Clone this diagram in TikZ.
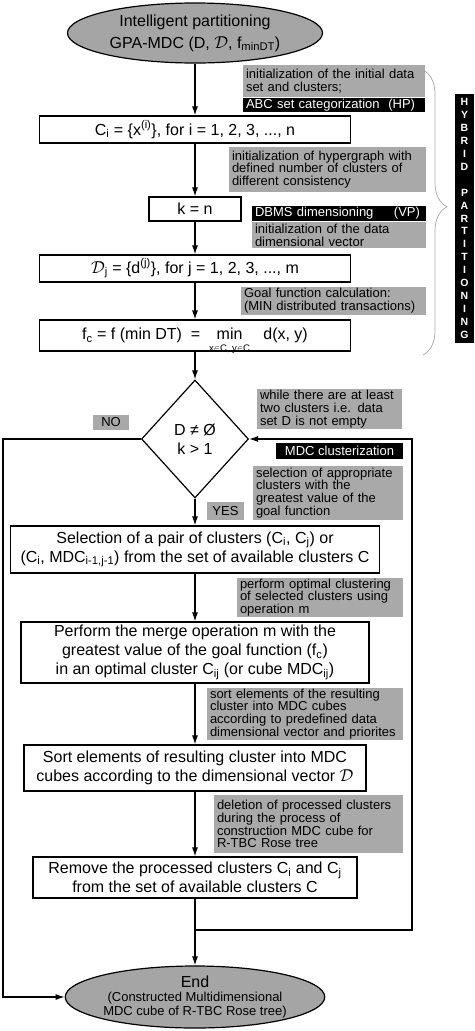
\documentclass[tikz,border=0pt]{standalone}
\usepackage{amsmath,amssymb}
\usepackage{fontspec}
\setmainfont{Liberation Sans}
\usepackage{tikz}
\usetikzlibrary{positioning,arrows.meta,shapes.geometric,decorations.pathreplacing}
\usepackage{xcolor}
\definecolor{notegray}{HTML}{A9A9A9}
\definecolor{termgray}{HTML}{A5A5A5}
\newcommand{\boxfont}{\fontsize{16}{19}\selectfont}
\newcommand{\notefont}{\fontsize{13}{12.8}\selectfont\hyphenpenalty=10000\exhyphenpenalty=10000}
\newcommand{\subtx}[1]{\textsubscript{#1}}
\newcommand{\suptx}[1]{\textsuperscript{#1}}
\newcommand{\Dcal}{$\mathcal{D}$}
\newcommand{\minxy}{\smash{\begin{tabular}[t]{@{}c@{}}min\\[-7.5pt]\fontsize{9.5}{10}\selectfont x$\in$C, y$\in$C\end{tabular}}}
\tikzset{
  >={Latex[length=9pt,width=6pt]},
  flowbox/.style={draw, line width=1.2pt, fill=white, inner sep=0pt, align=center, font=\boxfont},
  terminal/.style={ellipse, draw, line width=1.2pt, fill=termgray, inner sep=0pt, align=center},
  decision/.style={diamond, draw, line width=1.2pt, inner sep=0pt, align=center, font=\boxfont},
  note/.style={fill=notegray, inner xsep=3pt, inner ysep=0pt, align=left, font=\notefont},
  blacknote/.style={note, fill=black, text=white},
  tag/.style={fill=notegray, inner sep=0pt, font=\notefont},
}

\begin{document}
\begin{tikzpicture}[
->,
line width=1.2pt,
x=1pt, y=-1pt
]
\useasboundingbox (0,0) rectangle (474,1031);

\node[terminal, font=\boxfont, minimum width=255pt, minimum height=60pt] (start) at (195,33)
  {Intelligent partitioning\\[3pt]GPA-MDC (D, \Dcal, f\subtx{minDT})};
\node[flowbox, minimum width=311pt, minimum height=27pt] (ci) at (195,129.5)
  {C\subtx{i} = \{x\suptx{(i)}\}, for i = 1, 2, 3, ..., n};
\node[flowbox, minimum width=92pt, minimum height=24pt] (kn) at (195,209) {k = n};
\node[flowbox, minimum width=311pt, minimum height=27pt] (dj) at (195,268.5)
  {\Dcal\subtx{j} = \{d\suptx{(j)}\}, for j = 1, 2, 3, ..., m};
\node[flowbox, minimum width=311pt, minimum height=31pt] (fc) at (195,335.5)
  {f\subtx{c} = f (min DT)\ \ =\ \ \minxy\ \ \ d(x, y)};
\node[decision, minimum width=107pt, minimum height=118pt] (dec) at (195,439)
  {D ≠ Ø\\k > 1};
\node[flowbox, minimum width=369pt, minimum height=47pt] (sel) at (195,549.5)
  {Selection of a pair of clusters (C\subtx{i}, C\subtx{j}) or\\(C\subtx{i}, MDC\subtx{i-1,j-1}) from the set of available clusters C};
\node[flowbox, minimum width=348pt, minimum height=61pt] (merge) at (195,652.5)
  {Perform the merge operation m with the\\greatest value of the goal function (f\subtx{c})\\in an optimal cluster C\subtx{ij} (or cube MDC\subtx{ij})};
\node[flowbox, minimum width=342pt, minimum height=46pt] (sort) at (195,768)
  {Sort elements of resulting cluster into MDC\\cubes according to the dimensional vector \Dcal};
\node[flowbox, minimum width=324pt, minimum height=41pt] (rem) at (195,877.5)
  {Remove the processed clusters C\subtx{i} and C\subtx{j}\\from the set of available clusters C};
\node[terminal, font=\fontsize{13}{14}\selectfont, minimum width=254pt, minimum height=62pt] (end) at (195,997)
  {{\boxfont End}\\(Constructed Multidimensional\\MDC cube of R-TBC Rose tree)};

\node[note, text width=176pt, minimum height=32pt] (initnote) at (334,81)
  {initialization of the initial data\\set and clusters;};
\node[blacknote, text width=176pt, minimum height=14pt] (abcnote) at (334,105)
  {ABC set categorization\ \ (HP)};
\node[note, text width=191pt, minimum height=45pt] (hypnote) at (327.5,169.5)
  {initialization of hypergraph with\\defined number of clusters of\\different consistency};
\node[blacknote, text width=168pt, minimum height=15pt] (dbmsnote) at (339,213.5)
  {DBMS dimensioning\hfill(VP)\hspace*{3pt}};
\node[note, text width=168pt, minimum height=26pt] (vecnote) at (339,235)
  {initialization of the data\\dimensional vector};
\node[note, text width=179pt, minimum height=28pt] (goalnote) at (333.5,301)
  {Goal function calculation:\\(MIN distributed transactions)};
\node[note, text width=139pt, minimum height=40pt] (whilenote) at (329.5,409)
  {while there are at least\\two clusters i.e. data\\set D is not empty};
\node[tag, minimum width=36pt, minimum height=15pt] (nolbl) at (111,422.5) {NO};
\node[tag, fill=black, text=white, minimum width=127pt, minimum height=16pt] (mdcnote) at (339.5,451)
  {MDC clusterization};
\node[note, text width=144pt, minimum height=54pt] (selnote) at (328,493)
  {selection of appropriate\\clusters with the\\greatest value of the\\goal function};
\node[tag, minimum width=37pt, minimum height=18pt] (yeslbl) at (225.5,511) {YES};
\node[note, text width=160pt, minimum height=39pt] (optnote) at (320,597.5)
  {perform optimal clustering\\of selected clusters using\\operation m};
\node[note, text width=190pt, minimum height=52pt] (sortnote) at (305,714)
  {sort elements of the resulting\\cluster into MDC cubes\\according to predefined data\\dimensional vector and priorites};
\node[note, text width=183pt, minimum height=58pt] (delnote) at (308.5,824)
  {deletion of processed clusters\\during the process of\\construction MDC cube for\\R-TBC Rose tree};

\node[fill=black, text=white, inner sep=0pt, minimum width=19pt, minimum height=249pt, align=center,
  font=\fontsize{10.5}{12.9}\selectfont\bfseries] (hpbar) at (464.5,218.5)
  {H\\Y\\B\\R\\I\\D\\[12.9pt]P\\A\\R\\T\\I\\T\\I\\O\\N\\I\\N\\G};
\draw[-, gray!70, line width=0.7pt, decorate, decoration={brace, amplitude=24pt, aspect=0.48}]
  (423,70) -- (423,355);

\coordinate (jn) at (195,930);
\coordinate (loopbr) at (412,930);
\coordinate (nobend) at (3,439);

\path
(start) edge (ci)
(ci) edge (kn)
(kn) edge (dj)
(dj) edge (fc)
(fc) edge (dec)
(dec) edge (sel)
(sel) edge (merge)
(merge) edge (sort)
(sort) edge (rem)
(rem) edge (end);
\draw (jn) -- (loopbr) |- (dec.east);
\draw (dec.west) -- (nobend) |- (end.west);
\end{tikzpicture}
\end{document}
